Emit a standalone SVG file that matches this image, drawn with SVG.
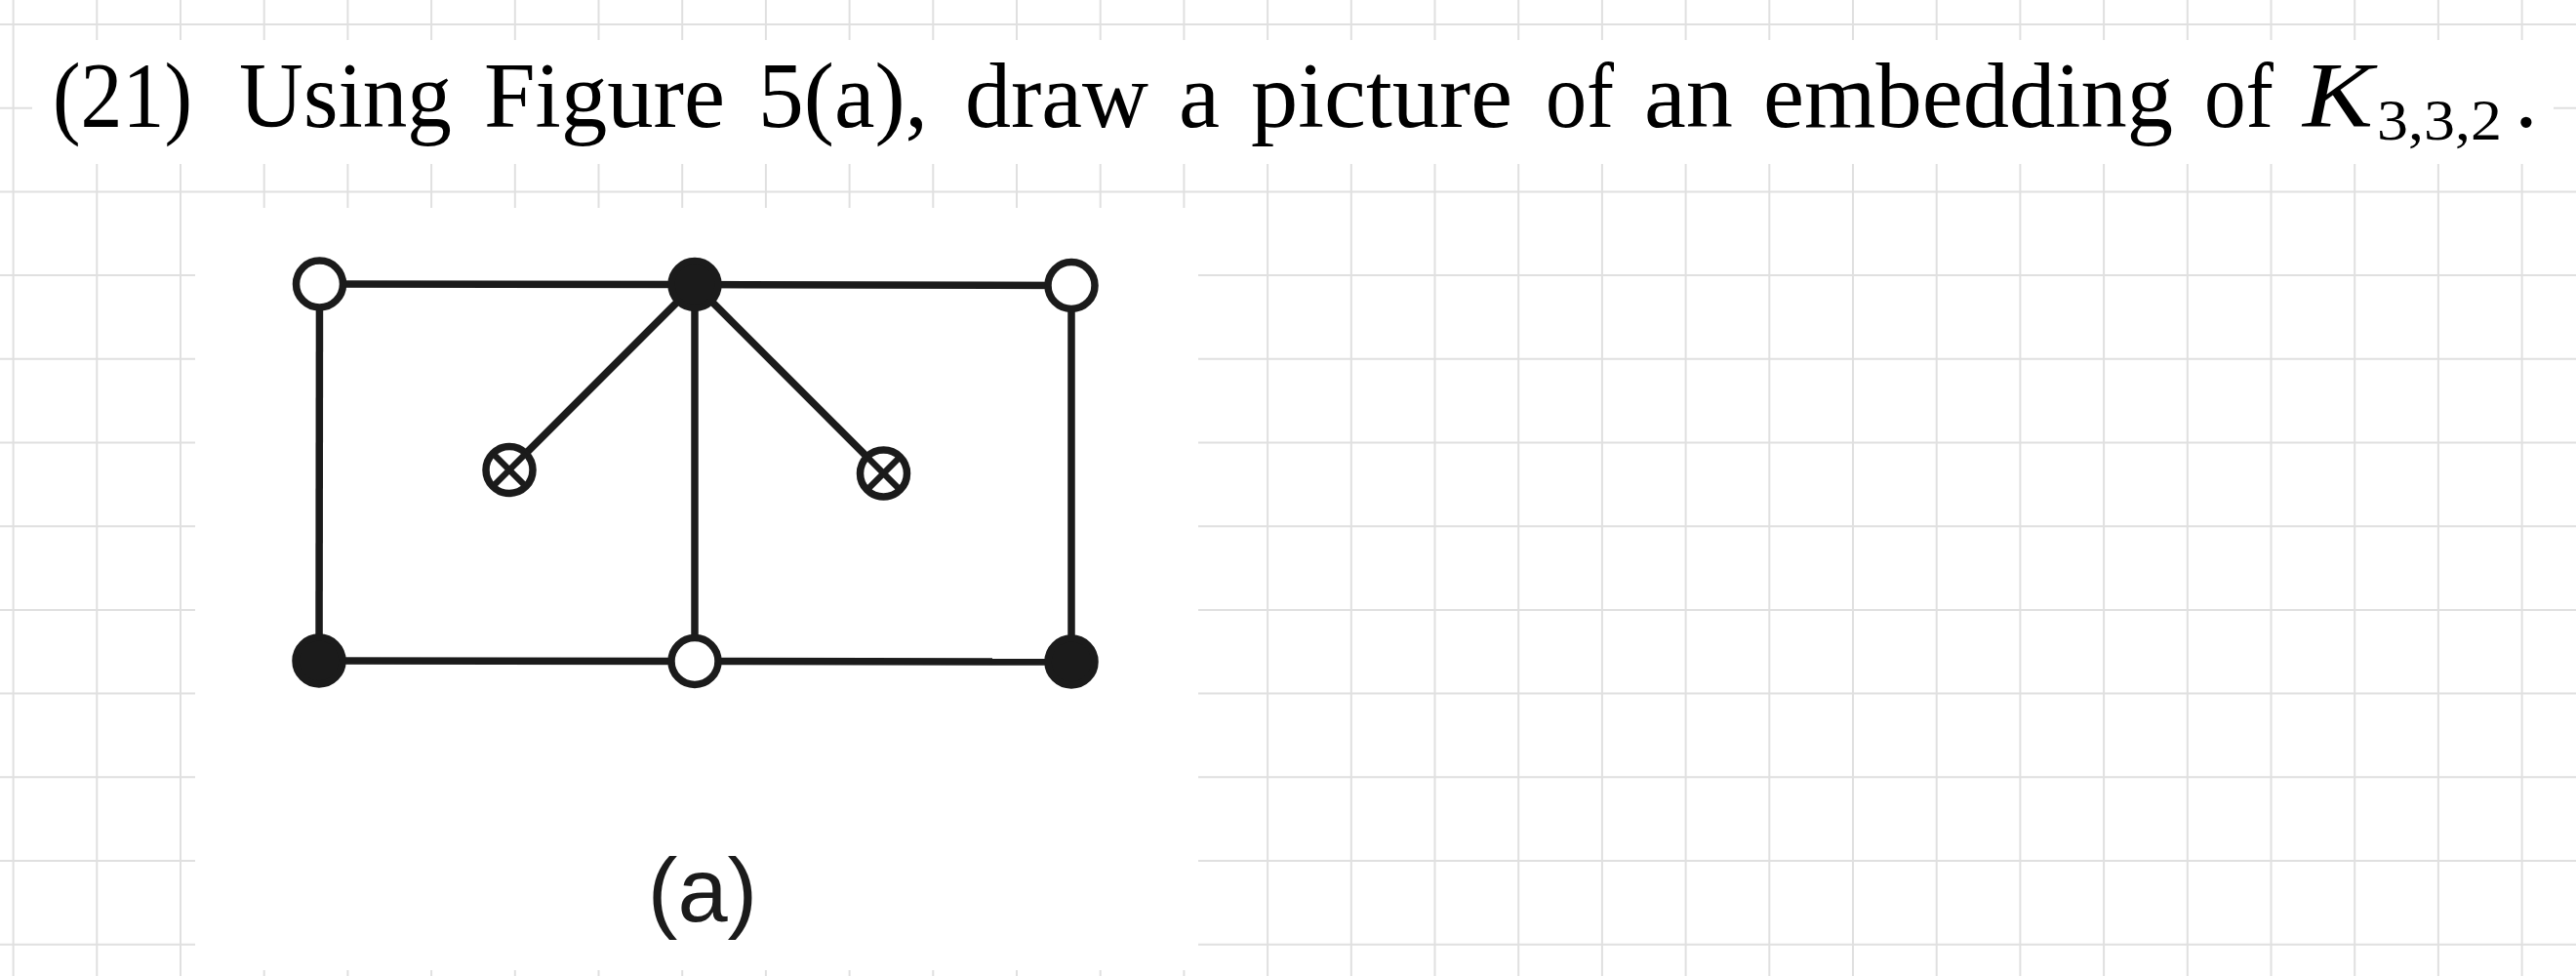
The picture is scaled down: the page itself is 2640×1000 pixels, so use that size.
<svg xmlns="http://www.w3.org/2000/svg" width="2640" height="1000" viewBox="0 0 2640 1000">
  <style>
    .grid { stroke: #e0e0e0; stroke-width: 2; fill: none; }
    .edge { stroke: #1b1b1b; stroke-width: 7.5; fill: none; stroke-linecap: butt; }
    .open { fill: #ffffff; stroke: #1b1b1b; stroke-width: 7.5; }
    .filled { fill: #1b1b1b; stroke: #1b1b1b; stroke-width: 7.5; }
    .xmark { stroke: #1b1b1b; stroke-width: 6.5; }
    .title { font-family: "Liberation Serif", "Times New Roman", serif; font-size: 95px; fill: #000000; }
    .sub { font-family: "Liberation Serif", "Times New Roman", serif; font-size: 60px; fill: #000000; }
    .cap { font-family: "Liberation Sans", Arial, sans-serif; font-size: 92px; fill: #1b1b1b; }
  </style>
  <rect x="0" y="0" width="2640" height="1000" fill="#ffffff"/>
  <g id="grid">
    <path class="grid" d="M13.6 0V1000 M99.3 0V1000 M185 0V1000 M270.7 0V1000 M356.4 0V1000 M442.1 0V1000 M527.8 0V1000 M613.5 0V1000 M699.2 0V1000 M784.9 0V1000 M870.6 0V1000 M956.3 0V1000 M1042 0V1000 M1127.7 0V1000 M1213.4 0V1000 M1299.1 0V1000 M1384.8 0V1000 M1470.5 0V1000 M1556.2 0V1000 M1641.9 0V1000 M1727.6 0V1000 M1813.3 0V1000 M1899 0V1000 M1984.7 0V1000 M2070.4 0V1000 M2156.1 0V1000 M2241.8 0V1000 M2327.5 0V1000 M2413.2 0V1000 M2498.9 0V1000 M2584.6 0V1000"/>
    <path class="grid" d="M0 25H2640 M0 110.7H2640 M0 196.4H2640 M0 282.1H2640 M0 367.8H2640 M0 453.5H2640 M0 539.2H2640 M0 624.9H2640 M0 710.6H2640 M0 796.3H2640 M0 882H2640 M0 967.7H2640"/>
    <rect x="33" y="41" width="2584" height="127" fill="#ffffff"/>
    <rect x="200" y="213" width="1028" height="781" fill="#ffffff"/>
  </g>
  <g id="title">
    <text class="title" y="130">
      <tspan x="54" textLength="143" lengthAdjust="spacingAndGlyphs">(21)</tspan>
      <tspan x="245" textLength="218" lengthAdjust="spacingAndGlyphs">Using</tspan>
      <tspan x="496" textLength="247" lengthAdjust="spacingAndGlyphs">Figure</tspan>
      <tspan x="777" textLength="174" lengthAdjust="spacingAndGlyphs">5(a),</tspan>
      <tspan x="989" textLength="188" lengthAdjust="spacingAndGlyphs">draw</tspan>
      <tspan x="1208" textLength="42" lengthAdjust="spacingAndGlyphs">a</tspan>
      <tspan x="1282" textLength="268" lengthAdjust="spacingAndGlyphs">picture</tspan>
      <tspan x="1584" textLength="70" lengthAdjust="spacingAndGlyphs">of</tspan>
      <tspan x="1685" textLength="91" lengthAdjust="spacingAndGlyphs">an</tspan>
      <tspan x="1807" textLength="420" lengthAdjust="spacingAndGlyphs">embedding</tspan>
      <tspan x="2259" textLength="71" lengthAdjust="spacingAndGlyphs">of</tspan>
      <tspan x="2360" font-style="italic" textLength="72" lengthAdjust="spacingAndGlyphs">K</tspan>
    </text>
    <text class="sub" x="2436" y="143" textLength="128" lengthAdjust="spacingAndGlyphs">3,3,2</text>
    <text class="title" x="2577" y="130">.</text>
  </g>
  <g id="connectors">
    <line class="edge" x1="327.5" y1="291" x2="712" y2="291.5"/>
    <line class="edge" x1="712" y1="291.5" x2="1098" y2="292.5"/>
    <line class="edge" x1="327.5" y1="291" x2="327" y2="677"/>
    <line class="edge" x1="1098" y1="292.5" x2="1098" y2="678"/>
    <line class="edge" x1="327" y1="677" x2="712" y2="677.5"/>
    <line class="edge" x1="712" y1="677.5" x2="1098" y2="678"/>
    <line class="edge" x1="712" y1="291.5" x2="712" y2="677.5"/>
    <line class="edge" x1="712" y1="291.5" x2="522" y2="481.5"/>
    <line class="edge" x1="712" y1="291.5" x2="905.5" y2="485"/>
  </g>
  <g id="n1"><circle class="open" cx="327.5" cy="291" r="24"/></g>
  <g id="n2"><circle class="filled" cx="712" cy="291.5" r="24"/></g>
  <g id="n3"><circle class="open" cx="1098" cy="292.5" r="24"/></g>
  <g id="n4"><circle class="filled" cx="327" cy="677" r="24"/></g>
  <g id="n5"><circle class="open" cx="712" cy="677.5" r="24"/></g>
  <g id="n6"><circle class="filled" cx="1098" cy="678" r="24"/></g>
  <g id="x1">
    <circle class="open" cx="522" cy="481.5" r="24"/>
    <line class="xmark" x1="505" y1="464.5" x2="539" y2="498.5"/>
    <line class="xmark" x1="539" y1="464.5" x2="505" y2="498.5"/>
  </g>
  <g id="x2">
    <circle class="open" cx="905.5" cy="485" r="24"/>
    <line class="xmark" x1="888.5" y1="468" x2="922.5" y2="502"/>
    <line class="xmark" x1="922.5" y1="468" x2="888.5" y2="502"/>
  </g>
  <g id="caption">
    <text class="cap" x="720" y="944" text-anchor="middle">(a)</text>
  </g>
</svg>
